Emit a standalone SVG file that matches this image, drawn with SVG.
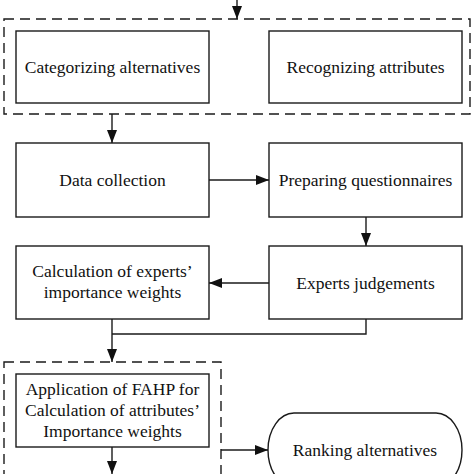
<svg xmlns="http://www.w3.org/2000/svg" width="474" height="474" viewBox="0 0 474 474">
<style>
.box{fill:#fff;stroke:#1a1a1a;stroke-width:1.4}
.dash{fill:none;stroke:#1a1a1a;stroke-width:1.4;stroke-dasharray:10 6}
.ln{fill:none;stroke:#1a1a1a;stroke-width:1.4}
text{font-family:"Liberation Serif","Times New Roman",serif;font-size:17.5px;fill:#111;text-anchor:middle}
</style>
<defs>
<marker id="ah" viewBox="0 0 13 10" refX="13" refY="5" markerWidth="13" markerHeight="10" markerUnits="userSpaceOnUse" orient="auto">
<path d="M0,0 L13,5 L0,10 Z" fill="#111"/>
</marker>
</defs>
<g id="group1"><rect class="dash" x="4" y="19" width="466" height="95"/></g>
<g id="group2"><rect class="dash" x="4" y="362" width="217" height="130"/></g>
<g id="categorizing"><rect class="box" x="16" y="31" width="193" height="72"/><text x="112.5" y="73">Categorizing alternatives</text></g>
<g id="recognizing"><rect class="box" x="269" y="31" width="193" height="72"/><text x="365.5" y="73">Recognizing attributes</text></g>
<g id="data"><rect class="box" x="16" y="143" width="193" height="74"/><text x="112.5" y="186">Data collection</text></g>
<g id="preparing"><rect class="box" x="269" y="143" width="193" height="74"/><text x="365.5" y="186">Preparing questionnaires</text></g>
<g id="calcexperts"><rect class="box" x="16" y="246" width="193" height="73"/><text x="112.5" y="277">Calculation of experts’</text><text x="112.5" y="298">importance weights</text></g>
<g id="judgements"><rect class="box" x="269" y="246" width="193" height="73"/><text x="365.5" y="289">Experts judgements</text></g>
<g id="fahp"><rect class="box" x="16" y="374" width="193" height="73"/><text x="112.5" y="395">Application of FAHP for</text><text x="112.5" y="416">Calculation of attributes’</text><text x="112.5" y="437">Importance weights</text></g>
<g id="ranking"><rect class="box" x="268" y="413" width="194" height="74" rx="26" ry="37"/><text x="365" y="456">Ranking alternatives</text></g>
<g id="connectors">
<line class="ln" x1="237" y1="0" x2="237" y2="19" marker-end="url(#ah)"/>
<line class="ln" x1="112" y1="114" x2="112" y2="143" marker-end="url(#ah)"/>
<line class="ln" x1="209" y1="180" x2="269" y2="180" marker-end="url(#ah)"/>
<line class="ln" x1="366" y1="217" x2="366" y2="246" marker-end="url(#ah)"/>
<line class="ln" x1="269" y1="283" x2="209" y2="283" marker-end="url(#ah)"/>
<polyline class="ln" points="366,319 366,334 112,334"/>
<line class="ln" x1="112" y1="319" x2="112" y2="362" marker-end="url(#ah)"/>
<line class="ln" x1="112" y1="447" x2="112" y2="474" marker-end="url(#ah)"/>
<line class="ln" x1="221" y1="450" x2="268" y2="450" marker-end="url(#ah)"/>
</g>
</svg>
